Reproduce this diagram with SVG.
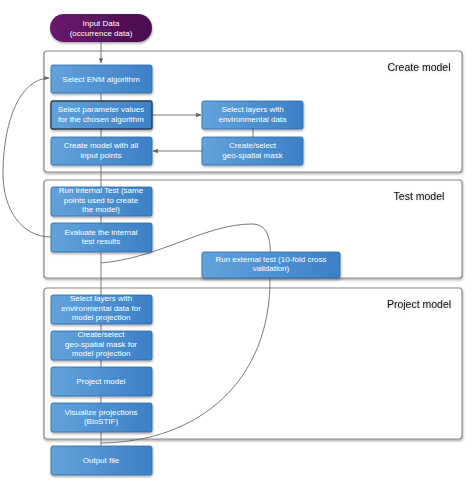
<svg xmlns="http://www.w3.org/2000/svg" width="474" height="490" viewBox="0 0 474 490">
<defs>
<linearGradient id="bg" x1="0" y1="0" x2="1" y2="0">
<stop offset="0" stop-color="#62a3dc"/><stop offset="1" stop-color="#3b80c6"/>
</linearGradient>
<linearGradient id="pg" x1="0" y1="0" x2="1" y2="0">
<stop offset="0" stop-color="#6a1a6e"/><stop offset="1" stop-color="#4a0c4e"/>
</linearGradient>
<filter id="sh" x="-10%" y="-10%" width="130%" height="140%">
<feDropShadow dx="0.5" dy="1.5" stdDeviation="1" flood-color="#000" flood-opacity="0.35"/>
</filter>
<filter id="ts" x="-10%" y="-30%" width="120%" height="160%">
<feDropShadow dx="0.5" dy="0.5" stdDeviation="0.8" flood-color="#000" flood-opacity="0.25"/>
</filter>
<marker id="ah" viewBox="0 0 10 10" refX="9" refY="5" markerWidth="6" markerHeight="6" orient="auto-start-reverse">
<path d="M0,1 L10,5 L0,9 z" fill="#666"/>
</marker>
</defs>
<style>
.cont{fill:#fff;stroke:#8a8a8a;stroke-width:1.2;filter:url(#sh)}
.box{fill:url(#bg);stroke:#2f6aa6;stroke-width:0.8;filter:url(#sh)}
.sel{stroke:#2a3d55;stroke-width:1.4}
.t{font-family:"Liberation Sans",Arial,sans-serif;font-size:8px;fill:#fff;text-anchor:middle}
.lbl{font-family:"Liberation Sans",Arial,sans-serif;font-size:10.5px;fill:#111;text-anchor:middle;filter:url(#ts)}
.ln{fill:none;stroke:#6a6a6a;stroke-width:0.9}
</style>

<g id="create-model-group"><rect class="cont" x="44" y="51" width="418" height="121" rx="3"/><text class="lbl" x="419" y="71">Create model</text></g>
<g id="test-model-group"><rect class="cont" x="44" y="180" width="418" height="98" rx="3"/><text class="lbl" x="419" y="200">Test model</text></g>
<g id="project-model-group"><rect class="cont" x="44" y="288" width="418" height="151" rx="3"/><text class="lbl" x="419" y="308">Project model</text></g>

<g id="connectors">
<line class="ln" x1="101" y1="42" x2="101" y2="63" marker-end="url(#ah)"/>
<line class="ln" x1="101" y1="93" x2="101" y2="446"/>
<line class="ln" x1="152" y1="115" x2="201" y2="115" marker-end="url(#ah)"/>
<line class="ln" x1="253" y1="129" x2="253" y2="137"/>
<line class="ln" x1="202" y1="151" x2="153" y2="151" marker-end="url(#ah)"/>
<path class="ln" d="M51,237 C22,237 2,210 3,170 C4,120 20,79 49,78" marker-end="url(#ah)"/>
<path class="ln" d="M101,263 C160,258 205,224 252,224 C275,224 270,255 270,280 C270,380 200,442 101,443"/>
</g>

<g id="input-data"><rect x="50" y="14" width="102" height="28" rx="14" fill="url(#pg)" filter="url(#sh)"/><text class="t" x="101" y="26">Input Data</text><text class="t" x="101" y="35.5">(occurrence data)</text></g>

<g id="select-enm"><rect class="box" x="51" y="65" width="101" height="28" rx="2"/><text class="t" x="101" y="82">Select ENM algorithm</text></g>
<g id="select-params"><rect class="box sel" x="51" y="101" width="101" height="28" rx="2"/><text class="t" x="101" y="112">Select parameter values</text><text class="t" x="101" y="121.5">for the chosen algorithm</text></g>
<g id="create-model"><rect class="box" x="51" y="137" width="101" height="28" rx="2"/><text class="t" x="101" y="148">Create model with all</text><text class="t" x="101" y="157.5">input points</text></g>
<g id="select-layers"><rect class="box" x="202" y="101" width="101" height="28" rx="2"/><text class="t" x="252.5" y="112">Select layers with</text><text class="t" x="252.5" y="121.5">environmental data</text></g>
<g id="geo-mask"><rect class="box" x="202" y="137" width="101" height="28" rx="2"/><text class="t" x="252.5" y="148">Create/select</text><text class="t" x="252.5" y="157.5">geo-spatial mask</text></g>

<g id="run-internal"><rect class="box" x="51" y="187" width="101" height="29" rx="2"/><text class="t" x="101" y="193">Run internal Test (same</text><text class="t" x="101" y="202.5">points used to create</text><text class="t" x="101" y="212">the model)</text></g>
<g id="evaluate"><rect class="box" x="51" y="223" width="101" height="29" rx="2"/><text class="t" x="101" y="234.5">Evaluate the internal</text><text class="t" x="101" y="244">test results</text></g>
<g id="run-external"><rect class="box" x="202" y="252" width="138" height="26" rx="2"/><text class="t" x="271" y="261.5">Run external test (10-fold cross</text><text class="t" x="271" y="271">validation)</text></g>

<g id="select-layers-proj"><rect class="box" x="51" y="295" width="101" height="29" rx="2"/><text class="t" x="101" y="301">Select layers with</text><text class="t" x="101" y="310.5">environmental data for</text><text class="t" x="101" y="320">model projection</text></g>
<g id="geo-mask-proj"><rect class="box" x="51" y="331" width="101" height="29" rx="2"/><text class="t" x="101" y="337">Create/select</text><text class="t" x="101" y="346.5">geo-spatial mask for</text><text class="t" x="101" y="356">model projection</text></g>
<g id="project-model"><rect class="box" x="51" y="367" width="101" height="29" rx="2"/><text class="t" x="101" y="384">Project model</text></g>
<g id="visualize"><rect class="box" x="51" y="403" width="101" height="29" rx="2"/><text class="t" x="101" y="414.5">Visualize projections</text><text class="t" x="101" y="424">(BioSTIF)</text></g>
<g id="output-file"><rect class="box" x="51" y="446" width="101" height="29" rx="2"/><text class="t" x="101" y="463">Output file</text></g>
</svg>
